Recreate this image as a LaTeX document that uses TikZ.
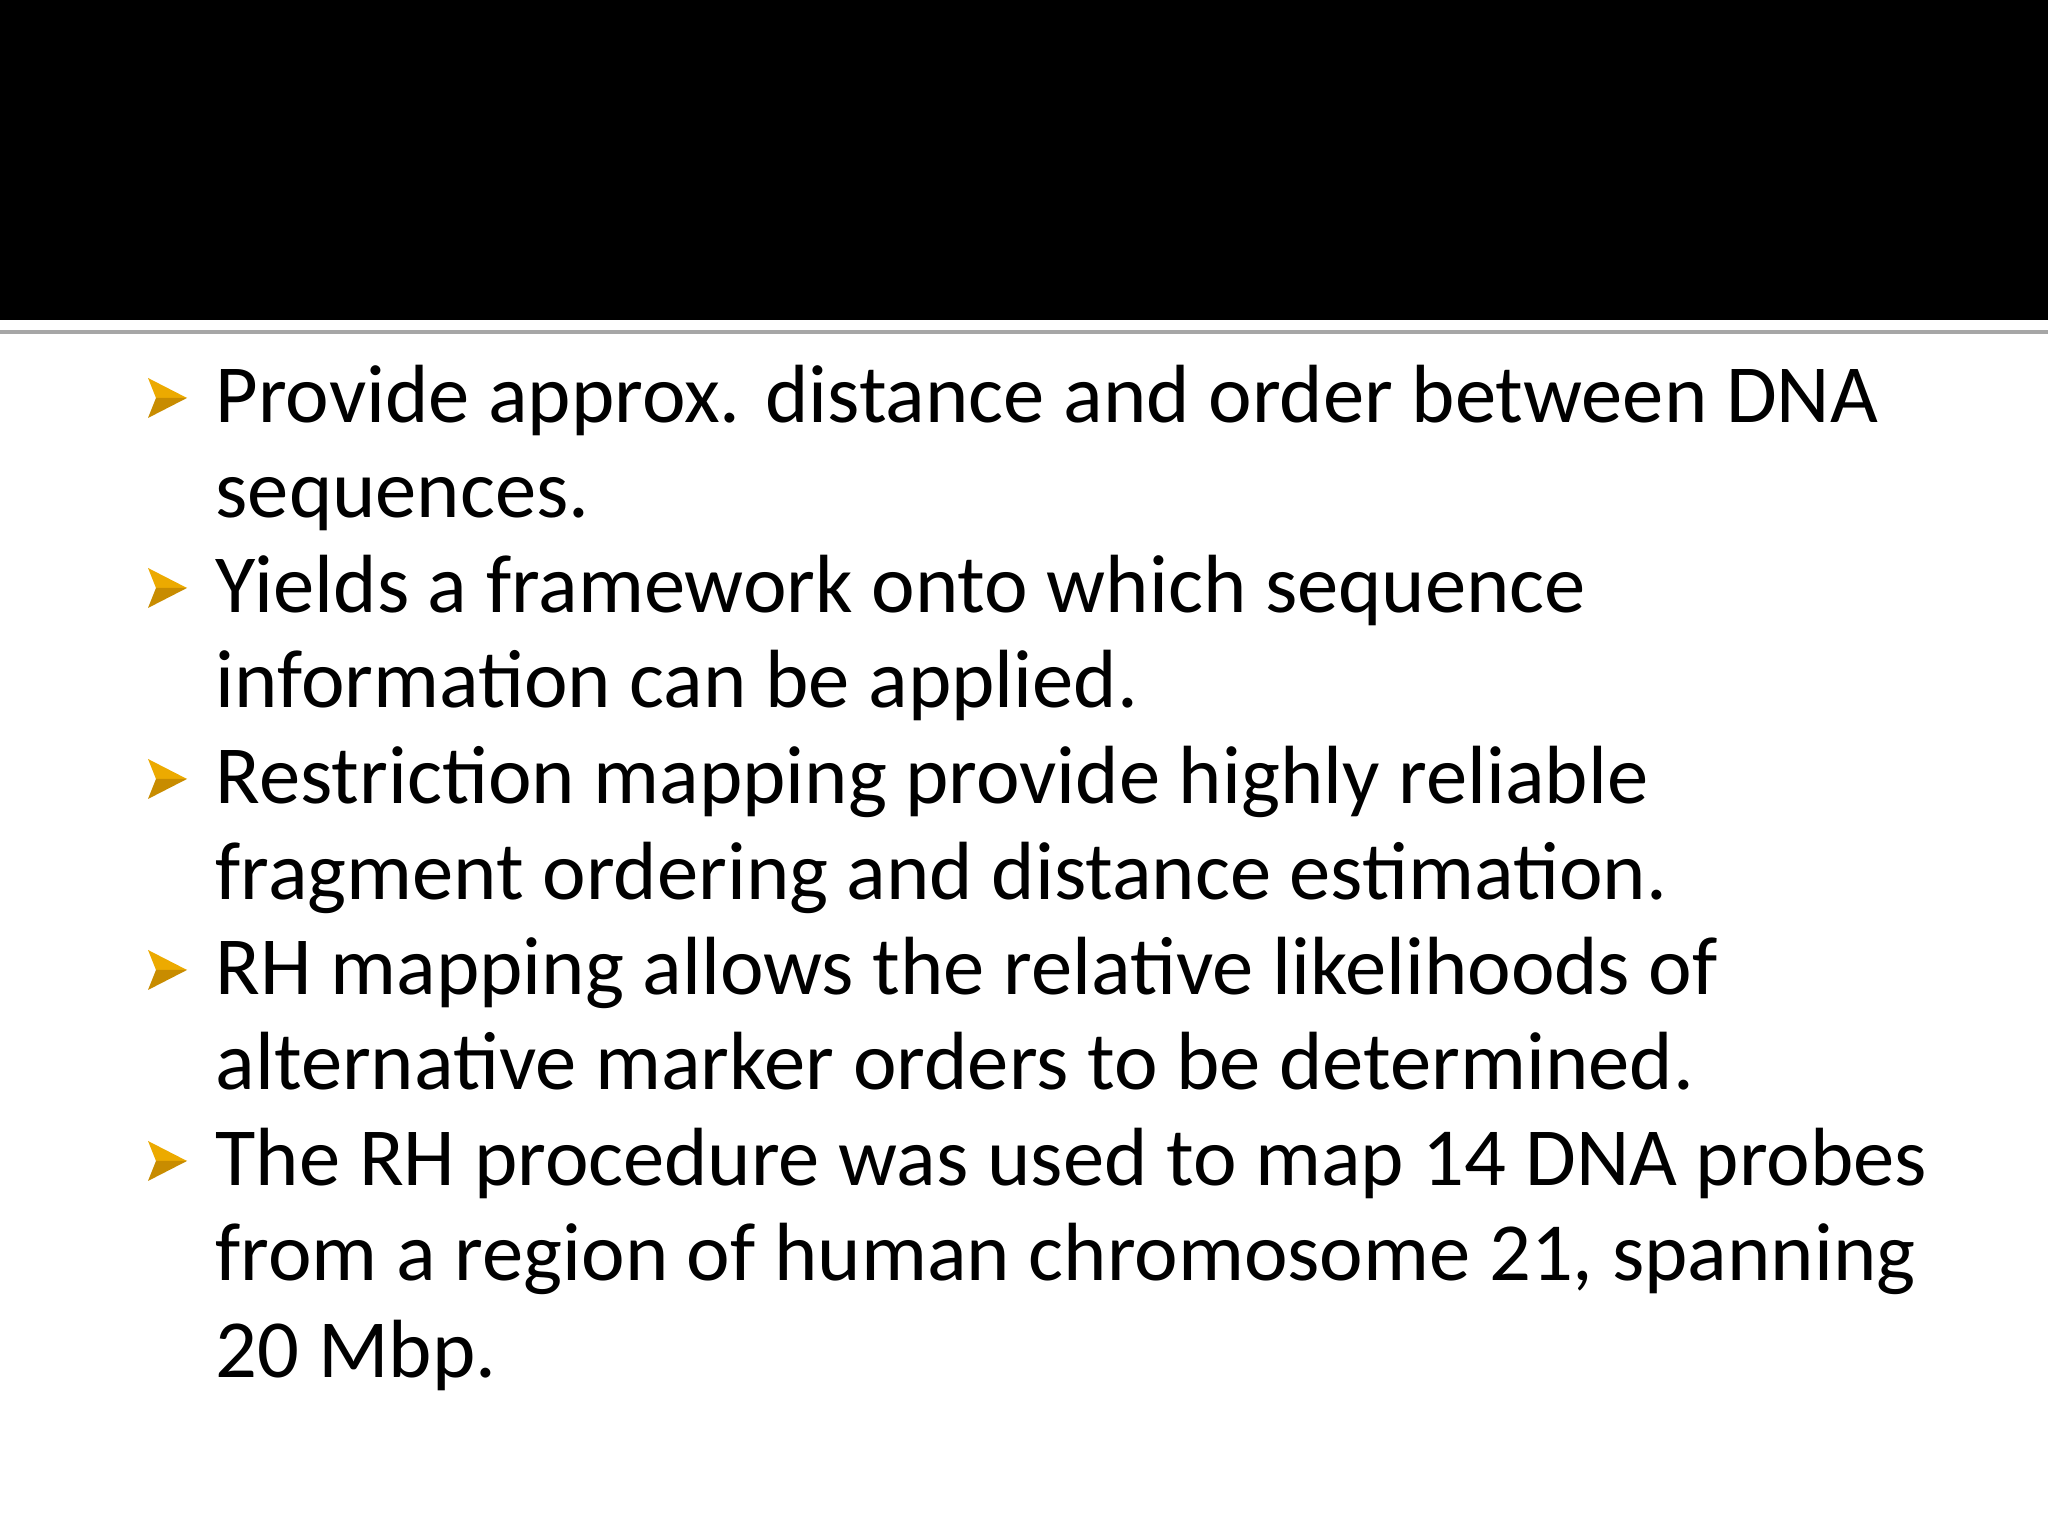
\documentclass[tikz,border=0pt]{standalone}
\usepackage{fontspec}
\setmainfont{Carlito}
\definecolor{gold}{RGB}{236,170,0}
\definecolor{golddark}{RGB}{200,140,0}
\begin{document}
\begin{tikzpicture}[x=1cm,y=1cm,
  txt/.style={anchor=base west,inner sep=0pt,font=\fontsize{23.5}{28}\selectfont}]
\useasboundingbox (0,0) rectangle (20.48,15.36);
\fill[white] (0,0) rectangle (20.48,15.36);
\fill[black] (0,15.36) rectangle (20.48,12.16);
\fill[gray!70] (0,12.06) rectangle (20.48,12.02);
\newcommand{\bul}[1]{%
  \fill[gold] (1.48,#1+0.45) -- (1.87,#1+0.25) -- (1.56,#1+0.25) -- cycle;
  \fill[golddark] (1.48,#1+0.05) -- (1.87,#1+0.25) -- (1.56,#1+0.25) -- cycle;
}
\foreach \y in {11.13,9.23,7.32,5.41,3.50} {\bul{\y}}
\node[txt] (l1) at (2.15,11.13) {Provide approx. distance and order between DNA};
\node[txt] (l2) at (2.15,10.18) {sequences.};
\node[txt] (l3) at (2.15,9.23) {Yields a framework onto which sequence};
\node[txt] (l4) at (2.15,8.28) {information can be applied.};
\node[txt] (l5) at (2.15,7.32) {Restriction mapping provide highly reliable};
\node[txt] (l6) at (2.15,6.36) {fragment ordering and distance estimation.};
\node[txt] (l7) at (2.15,5.41) {RH mapping allows the relative likelihoods of};
\node[txt] (l8) at (2.15,4.46) {alternative marker orders to be determined.};
\node[txt] (l9) at (2.15,3.50) {The RH procedure was used to map 14 DNA probes};
\node[txt] (l10) at (2.15,2.55) {from a region of human chromosome 21, spanning};
\node[txt] (l11) at (2.15,1.58) {20 Mbp.};
\end{tikzpicture}
\end{document}
